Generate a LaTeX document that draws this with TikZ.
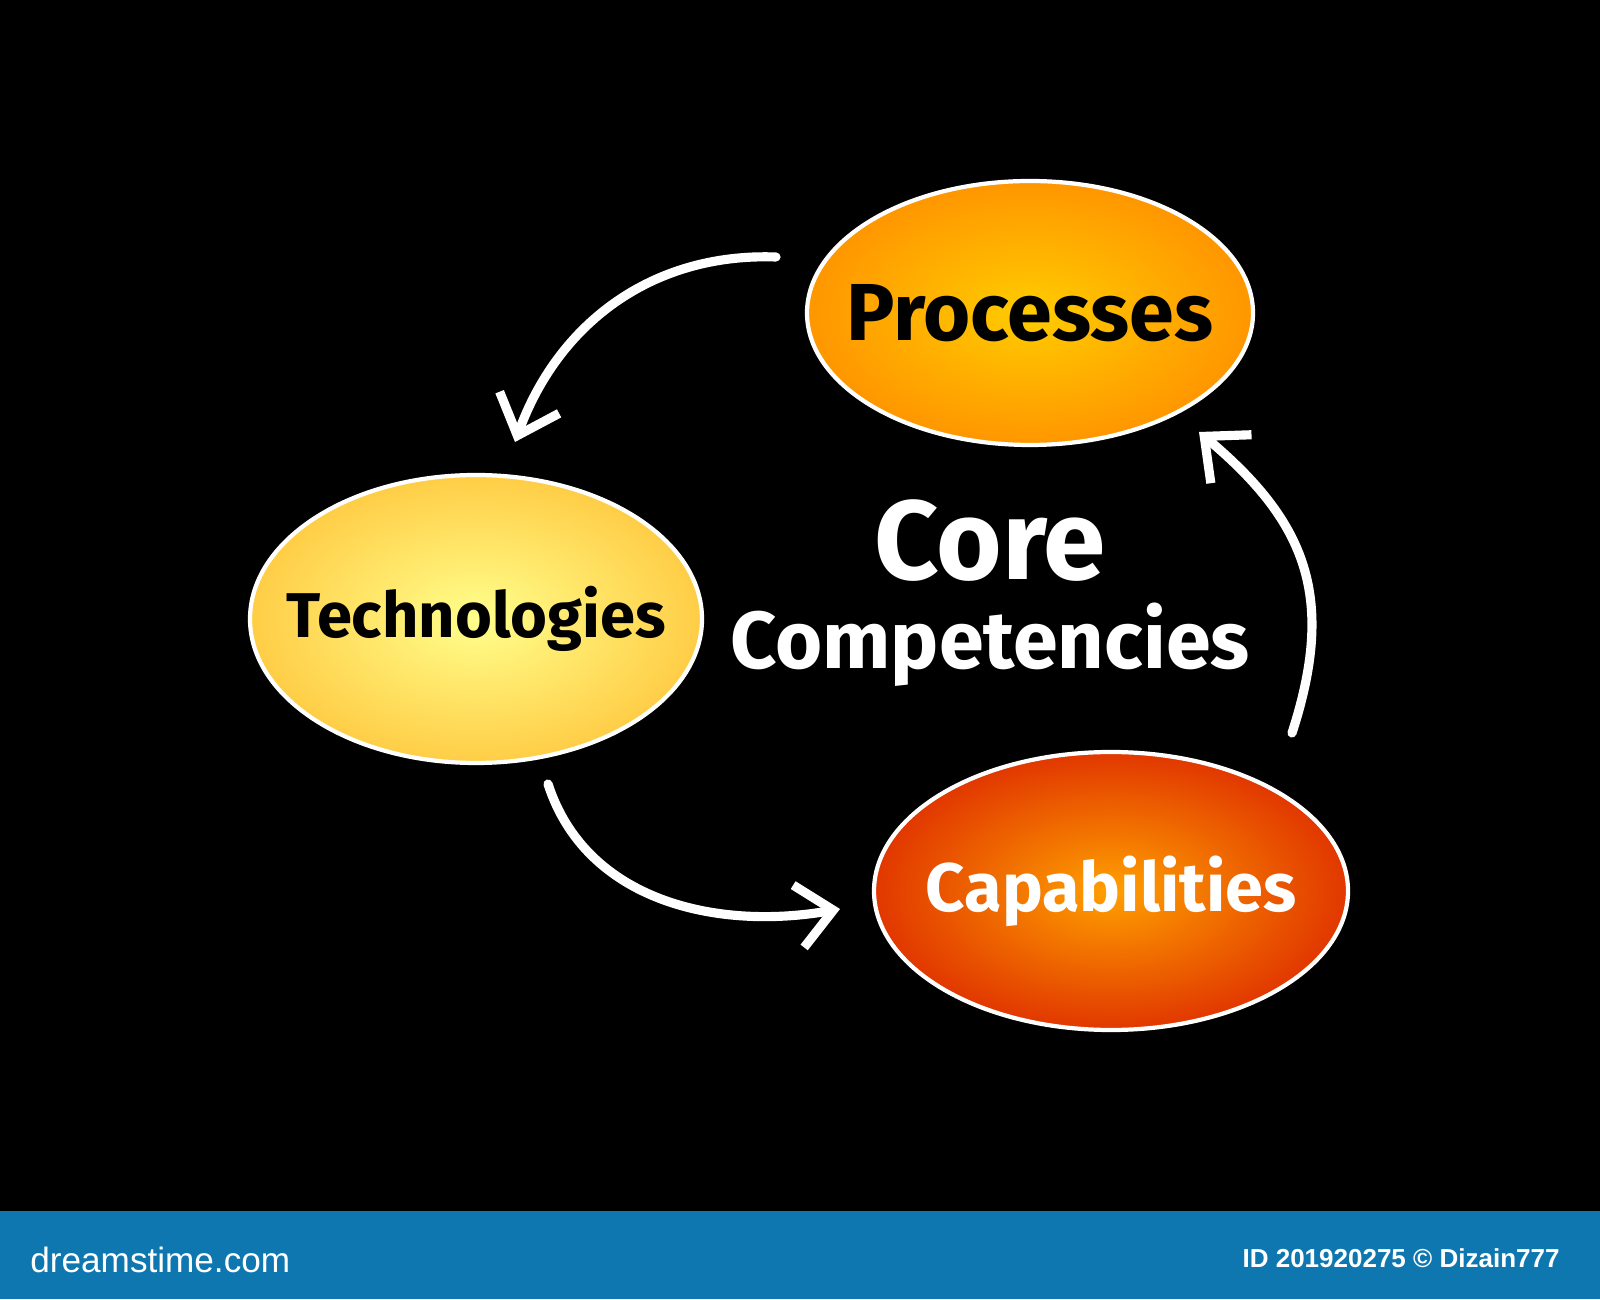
\documentclass[tikz,border=0pt]{standalone}
\usepackage{fontspec}
\setmainfont{Fira Sans}
\newfontfamily\barfont{Liberation Sans}
\usetikzlibrary{shapes.geometric,arrows.meta}

\begin{document}
\begin{tikzpicture}
  \tikzset{every node/.style={font=\bfseries},
           bubble/.style={ellipse,draw=white,line width=1.2pt,inner xsep=-0.6cm,inner ysep=0pt},
           loop arrow/.style={white,line width=2.6pt,line cap=round,
                              -{Straight Barb[length=10pt,width=18pt,line width=2.6pt]}}}
  \fill[black] (0,0) rectangle (16,12.99);
  \fill[fill={rgb,255:red,14;green,119;blue,176}] (0,0) rectangle (16,0.88);
  \useasboundingbox (0,0) rectangle (16,12.99);

  % the three bubbles
  \node[bubble,minimum width=4.46cm,minimum height=2.64cm,
        inner color={rgb,255:red,255;green,204;blue,0},
        outer color={rgb,255:red,255;green,150;blue,0}]
        (proc) at (10.30,9.86) {\fontsize{23}{25}\selectfont Processes};
  \node[bubble,minimum width=4.52cm,minimum height=2.88cm,
        inner color={rgb,255:red,255;green,255;blue,140},
        outer color={rgb,255:red,255;green,205;blue,70}]
        (tech) at (4.76,6.80) {\fontsize{18}{20}\selectfont Technologies};
  \node[bubble,minimum width=4.74cm,minimum height=2.78cm,text=white,
        inner color={rgb,255:red,255;green,160;blue,0},
        outer color={rgb,255:red,225;green,55;blue,0}]
        (capa) at (11.11,4.08) {\fontsize{19.5}{22}\selectfont Capabilities};

  % centre title
  \node[text=white,inner sep=0pt,align=center] (title) at (9.90,7.06)
        {\fontsize{32}{34}\selectfont Core\\[5pt]\fontsize{23}{26}\selectfont Competencies};

  % arrow ends
  \coordinate (a1) at (7.76,10.42);
  \coordinate (b1) at (5.15,8.57);
  \coordinate (a2) at (5.48,5.15);
  \coordinate (b2) at (8.40,3.90);
  \coordinate (a3) at (12.92,5.66);
  \coordinate (b3) at (11.99,8.67);
  \draw[loop arrow] (a1) to[out=178,in=70] (b1);
  \draw[loop arrow] (a2) to[out=-72,in=190] (b2);
  \draw[loop arrow] (a3) to[out=72,in=-40,looseness=1.15] (b3);

  % footer
  \node[anchor=west,text=white,font=\barfont\fontsize{10}{12}\selectfont]
        (site) at (0.18,0.39) {dreamstime.com};
  \node[anchor=east,text=white,font=\barfont\bfseries\fontsize{7.4}{9}\selectfont]
        (imgid) at (15.72,0.41) {ID 201920275 © Dizain777};
\end{tikzpicture}
\end{document}
